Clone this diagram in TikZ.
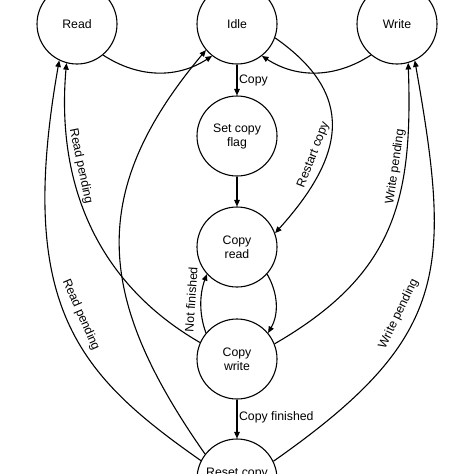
\documentclass[tikz,border=0pt]{standalone}
\usepackage{fontspec}
\setmainfont{Liberation Sans}
\usetikzlibrary{arrows.meta}
\begin{document}
\begin{tikzpicture}[x=1pt,y=1pt,
  state/.style={circle, draw, line width=1.1pt, minimum size=80pt, inner sep=0pt, align=center, font=\fontsize{12.3}{14}\selectfont},
  edge/.style={draw, line width=1.1pt, -{Triangle[length=6.5pt,width=5.5pt]}},
  lbl/.style={font=\fontsize{12.3}{14}\selectfont, inner sep=2pt}]
\useasboundingbox (0,0) rectangle (474,-474);
\clip (0,0) rectangle (474,-474);
% states
\node[state] (read) at (77,-24) {Read};
\node[state] (idle) at (237,-24) {Idle};
\node[state] (write) at (397,-24) {Write};
\node[state] (flag) at (237,-136) {Set copy\\flag};
\node[state] (cread) at (237,-247) {Copy\\read};
\node[state] (cwrite) at (237,-359) {Copy\\write};
\node[state] (reset) at (237,-479) {};
\node[lbl, anchor=base] (resettext) at (237,-476) {Reset copy};
% top edges
\draw[edge] (read.-50) to[out=-33, in=-147, distance=42pt] (idle.-128);
\draw[edge] (write.-130) to[out=-147, in=-33, distance=42pt] (idle.-52);
% central chain
\draw[edge] (idle) -- node[lbl, right, inner sep=1.5pt] {Copy} (flag);
\draw[edge] (flag) -- (cread);
\draw[edge] (cread.-42) to[out=-60, in=60, distance=22pt] (cwrite.40);
\draw[edge] (cwrite.140) to[out=110, in=-110, distance=21pt]
  node[lbl, sloped, above=3pt, pos=0.56] {Not finished} (cread.-138);
\draw[edge] (cwrite) -- node[lbl, right, pos=0.45, inner sep=1.5pt] {Copy finished} (reset);
% restart copy
\draw[edge] (idle.-20) to[out=-35, in=48, out distance=99pt, in distance=105pt]
  node[lbl, sloped, above=4pt, pos=0.66] {Restart copy} (cread.20);
% write pending
\draw[edge] (cwrite.22) to[out=30, in=-88, distance=138pt]
  node[lbl, sloped, above=1pt, pos=0.71] {Write pending} (write.-74);
\draw[edge] (reset.26) to[out=35, in=-80, out distance=215pt, in distance=214pt]
  node[lbl, sloped, above=8pt, pos=0.42] {Write pending} (write.-64);
% read pending
\draw[edge] (cwrite.156) to[out=150, in=-95, distance=120pt]
  node[lbl, sloped, above=1pt, pos=0.69] {Read pending} (read.-105);
\draw[edge] (reset.153) to[out=145, in=-100, out distance=150pt, in distance=250pt]
  node[lbl, sloped, above=6pt, pos=0.5] {Read pending} (read.-116);
% long return to idle
\draw[edge] (reset.142) to[out=125, in=-130, distance=188pt] (idle.-140);
\end{tikzpicture}
\end{document}
